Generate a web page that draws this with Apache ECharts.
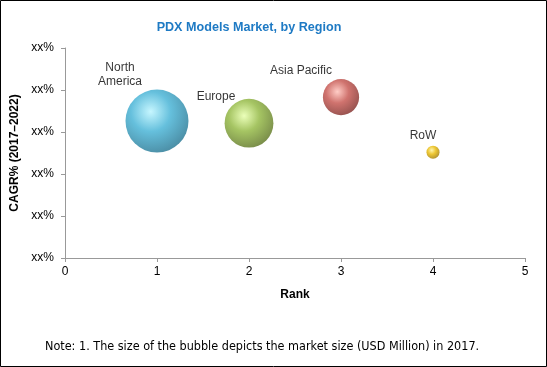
<!DOCTYPE html>
<html><head><meta charset="utf-8">
<script src="https://cdn.jsdelivr.net/npm/echarts@6/dist/echarts.min.js"></script>
<style>html,body{margin:0;padding:0;background:#fff}#c{width:547px;height:367px}</style>
</head><body><div id="c"></div>
<script>
var regions = ['North\nAmerica', 'Europe', 'Asia Pacific', 'RoW'];
var ranks = [1, 2, 3, 4];
var cagr = [3.26, 3.21, 3.83, 2.52];
var marketSize = [100, 60, 33, 4.3];
var yTickLabels = ['xx%', 'xx%', 'xx%', 'xx%', 'xx%', 'xx%'];

var colors = [
  ['#b8f4ff', '#3fb0d4', '#1d6f8c'],
  ['#e6ffa8', '#8fb63c', '#566e1c'],
  ['#ffc0b8', '#c4504a', '#7a2622'],
  ['#fff29a', '#e8b800', '#9a7400']
];
var labelOffsets = [[-37, 4], [-33, 10], [-40, 4], [-10, 2]];

function grad(c) {
  return {type: 'radial', x: 0.4, y: 0.35, r: 0.7,
    colorStops: [{offset: 0, color: c[0]}, {offset: 0.45, color: c[1]}, {offset: 1, color: c[2]}]};
}

var data = regions.map(function (n, i) {
  return {
    name: n,
    value: [ranks[i], cagr[i], marketSize[i]],
    itemStyle: {color: grad(colors[i])},
    label: {offset: labelOffsets[i]}
  };
});

var chart = echarts.init(document.getElementById('c'));
chart.setOption({
  animation: false,
  backgroundColor: '#fff',
  title: {
    text: 'PDX Models Market, by Region', left: 244, top: 16, textAlign: 'center',
    textStyle: {fontFamily: 'Liberation Sans', fontSize: 12.6, fontWeight: 'bold', color: '#1e7ac4'}
  },
  grid: {left: 65, right: 22, top: 48, bottom: 109},
  xAxis: {
    type: 'value', min: 0, max: 5, interval: 1,
    name: 'Rank', nameLocation: 'middle', nameGap: 31,
    nameTextStyle: {fontFamily: 'Liberation Sans', fontSize: 12, fontWeight: 'bold', color: '#000'},
    axisLine: {show: true, lineStyle: {color: '#999'}},
    axisTick: {show: true, length: 4, lineStyle: {color: '#999'}},
    axisLabel: {fontFamily: 'Liberation Sans', fontSize: 12, color: '#000', margin: 8},
    splitLine: {show: false}
  },
  yAxis: {
    type: 'value', min: 0, max: 5, interval: 1,
    name: 'CAGR% (2017\u20132022)', nameLocation: 'middle', nameGap: 42,
    nameTextStyle: {fontFamily: 'Liberation Sans', fontSize: 12, fontWeight: 'bold', color: '#000'},
    axisLine: {show: true, lineStyle: {color: '#999'}},
    axisTick: {show: true, length: 4, lineStyle: {color: '#999'}},
    axisLabel: {fontFamily: 'Liberation Sans', fontSize: 12, color: '#000', margin: 11,
      formatter: function (v) { return yTickLabels[Math.round(v)]; }},
    splitLine: {show: false}
  },
  series: [{
    type: 'scatter',
    data: data,
    symbolSize: function (v) { return Math.sqrt(v[2]) * 6.3; },
    label: {
      show: true, position: 'top', formatter: '{b}', align: 'center',
      fontFamily: 'Liberation Sans', fontSize: 12, color: '#000', lineHeight: 14
    },
    emphasis: {disabled: true}
  }],
  graphic: [
    {type: 'rect', shape: {x: 0.5, y: 0.5, width: 546, height: 366},
      style: {fill: 'none', stroke: '#000', lineWidth: 1}},
    {type: 'text', left: 45, top: 340,
      style: {text: 'Note: 1. The size of the bubble depicts the market size (USD Million) in 2017.',
        font: '12.5px "DejaVu Sans Condensed"', fill: '#000'}}
  ]
});
</script></body></html>
